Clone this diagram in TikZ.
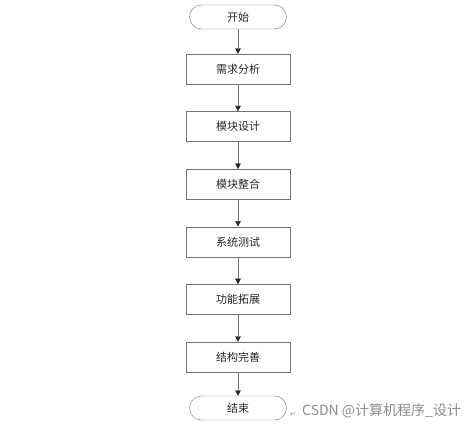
\documentclass[tikz,border=0pt]{standalone}
\usepackage{fontspec}
\setmainfont{Noto Sans CJK SC}
\newfontfamily\symfont{DejaVu Sans}
\usetikzlibrary{arrows.meta}

\begin{document}
\begin{tikzpicture}[x=1pt, y=-1pt,
	term/.style={draw=black!55, rounded corners=12pt, minimum width=97pt, minimum height=24pt, inner sep=0pt, text=black!85, font=\fontsize{11}{13}\selectfont},
	stepbox/.style={draw=black!55, minimum width=104pt, minimum height=30pt, inner sep=0pt, text=black!85, font=\fontsize{11}{13}\selectfont},
	flow/.style={draw=black!55, -{Triangle[width=5.5pt, length=5.5pt, color=black!85]}}]
	\def\cx{238};
	\def\top{69};
	\def\gap{57.6};
	
	\useasboundingbox (0,0) rectangle (474,426);
	
	\node [term] (start) at (\cx,17) {开始};
	\node [stepbox] (req) at (\cx,\top) {需求分析};
	\node [stepbox] (design) at (\cx,{\top + \gap}) {模块设计};
	\node [stepbox] (merge) at (\cx,{\top + 2*\gap}) {模块整合};
	\node [stepbox] (test) at (\cx,{\top + 3*\gap}) {系统测试};
	\node [stepbox] (extend) at (\cx,{\top + 4*\gap}) {功能拓展};
	\node [stepbox] (refine) at (\cx,{\top + 5*\gap}) {结构完善};
	\node [term] (finish) at (\cx,408) {结束};
	
	\draw [flow] (start) -- (req);
	\draw [flow] (req) -- (design);
	\draw [flow] (design) -- (merge);
	\draw [flow] (merge) -- (test);
	\draw [flow] (test) -- (extend);
	\draw [flow] (extend) -- (refine);
	\draw [flow] (refine) -- (finish);
	
	% watermark
	\node [text=black!45, font=\symfont\fontsize{7}{8}\selectfont] (ret) at (293,414) {↵};
	\node [anchor=west, inner sep=0pt, text=black!45, font=\fontsize{14}{16}\selectfont] (mark) at (302,411) {CSDN @计算机程序\_设计};
\end{tikzpicture}
\end{document}
